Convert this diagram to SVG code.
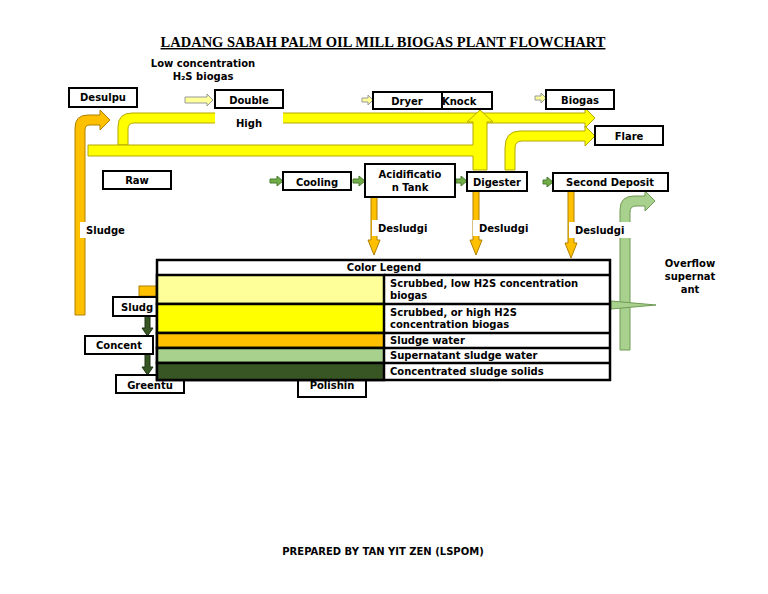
<svg xmlns="http://www.w3.org/2000/svg" width="768" height="594" viewBox="0 0 768 594">
<style>
.b{fill:#fff;stroke:#000;stroke-width:2}
.t{font-family:"DejaVu Sans",sans-serif;font-weight:bold;font-size:10px;fill:#000}
.c{text-anchor:middle}
.y{fill:#ffff00;stroke:#b5a800;stroke-width:1}
.o{fill:#ffc000;stroke:#b08000;stroke-width:1}
.g{fill:#a9d18e;stroke:#6f9a55;stroke-width:1}
.ly{fill:#ffff99;stroke:#999;stroke-width:1}
.sg{fill:#70ad47;stroke:#4a7a2f;stroke-width:1}
.dg{fill:#375623;stroke:#1e3312;stroke-width:1}
</style>
<rect width="768" height="594" fill="#fff"/>
<text x="383" y="47" text-anchor="middle" font-family="Liberation Serif,serif" font-weight="bold" font-size="14.5" text-decoration="underline">LADANG SABAH PALM OIL MILL BIOGAS PLANT FLOWCHART</text>
<g id="connectors">
<path class="o" d="M75,315 V128 Q75,115 88,115 H100 V110 L110,120 L100,130 V125 H90 Q85,125 85,130 V315 Z"/>
<path class="y" d="M118,145 V127 Q118,113 132,113 H585 V108 L595,118 L585,128 V123 H134 Q128,123 128,129 V145 Z"/>
<rect x="215" y="112" width="68" height="12" fill="#fff"/>
<path class="y" d="M88,145 H473 V122 H467 L480,110 L493,122 H487 V170 H473 V156 H88 Z"/>
<path class="y" d="M505,170 V148 Q505,131 520,131 H585 V126 L595,136 L585,146 V141 H522 Q515,141 515,148 V170 Z"/>
<path class="g" d="M620,350 V210 Q620,196 634,196 H645 V191 L655,201 L645,211 V206 H636 Q630,206 630,212 V350 Z"/>
<path class="g" d="M611,301 L656,305 L611,309 Z"/>
<path class="ly" d="M185,97 H207 V94 L213,100 L207,106 V103 H185 Z"/>
<path class="ly" d="M362,98 H368 V95 L373,100 L368,105 V102 H362 Z"/>
<path class="ly" d="M535,96 H541 V93 L546,98 L541,103 V100 H535 Z"/>
<path class="sg" d="M270,179 H277 V176 L283,181 L277,186 V183 H270 Z"/>
<path class="sg" d="M353,179 H359 V176 L365,181 L359,186 V183 H353 Z"/>
<path class="sg" d="M456,179 H461 V176 L467,181 L461,186 V183 H456 Z"/>
<path class="sg" d="M543,180 H547 V177 L553,182 L547,187 V184 H543 Z"/>
<path class="o" d="M371,197 H377 V240 H380 L374,255 L368,240 H371 Z"/>
<path class="o" d="M473,191 H479 V240 H482 L476,255 L470,240 H473 Z"/>
<path class="o" d="M568,191 H574 V243 H577 L571,258 L565,243 H568 Z"/>
<rect x="139" y="286" width="19" height="10" class="o"/>
<path class="dg" d="M145,316 H150 V328 H153 L147.5,336 L142,328 H145 Z"/>
<path class="dg" d="M145,354 H150 V367 H153 L147.5,375 L142,367 H145 Z"/>
</g>
<rect x="80" y="222" width="52" height="16" fill="#fff"/>
<text class="t" x="86" y="234">Sludge</text>
<rect x="372" y="220" width="65" height="16" fill="#fff"/>
<text class="t" x="378" y="232">Desludgi</text>
<rect x="473" y="220" width="65" height="16" fill="#fff"/>
<text class="t" x="479" y="232">Desludgi</text>
<rect x="569" y="222" width="65" height="16" fill="#fff"/>
<text class="t" x="575" y="234">Desludgi</text>
<text class="t c" x="203" y="67">Low concentration</text>
<text class="t c" x="203" y="80">H₂S biogas</text>
<text class="t c" x="249" y="127">High</text>
<g id="desulpu"><rect class="b" x="69" y="88" width="68" height="19"/><text class="t c" x="103" y="101">Desulpu</text></g>
<g id="double"><rect class="b" x="215" y="90" width="68" height="18"/><text class="t c" x="249" y="104">Double</text></g>
<g id="dryer"><rect class="b" x="373" y="92" width="69" height="17"/><text class="t c" x="407" y="105">Dryer</text></g>
<g id="knock"><rect class="b" x="442" y="92" width="50" height="17"/><text class="t" x="442" y="105">Knock</text></g>
<g id="biogas"><rect class="b" x="546" y="90" width="68" height="19"/><text class="t c" x="580" y="104">Biogas</text></g>
<g id="flare"><rect class="b" x="595" y="126" width="68" height="19"/><text class="t c" x="629" y="140">Flare</text></g>
<g id="raw"><rect class="b" x="103" y="171" width="68" height="18"/><text class="t c" x="137" y="184">Raw</text></g>
<g id="cooling"><rect class="b" x="283" y="172" width="68" height="18"/><text class="t c" x="317" y="186">Cooling</text></g>
<g id="acid"><rect class="b" x="365" y="164" width="90" height="33"/><text class="t c" x="410" y="178">Acidificatio</text><text class="t c" x="410" y="191">n Tank</text></g>
<g id="digester"><rect class="b" x="467" y="172" width="60" height="19"/><text class="t c" x="497" y="186">Digester</text></g>
<g id="second"><rect class="b" x="553" y="173" width="115" height="18"/><text class="t c" x="610" y="186">Second Deposit</text></g>
<g id="overflow"><text class="t c" x="690" y="267">Overflow</text><text class="t c" x="690" y="280">supernat</text><text class="t c" x="690" y="293">ant</text></g>
<g id="sludge"><rect class="b" x="113" y="297" width="47" height="19"/><text class="t" x="121" y="311">Sludg</text></g>
<g id="concent"><rect class="b" x="85" y="336" width="68" height="18"/><text class="t c" x="119" y="349">Concent</text></g>
<g id="greentu"><rect class="b" x="116" y="375" width="68" height="18"/><text class="t c" x="150" y="389">Greentu</text></g>
<g id="polishin"><rect class="b" x="298" y="375" width="68" height="22"/><text class="t c" x="332" y="389">Polishin</text></g>
<g id="legend" stroke="#000" stroke-width="2.5">
<rect x="157" y="260" width="453" height="120" fill="#fff"/>
<rect x="157" y="275" width="227" height="29" fill="#ffff99"/>
<rect x="157" y="304" width="227" height="29" fill="#ffff00"/>
<rect x="157" y="333" width="227" height="15" fill="#ffc000"/>
<rect x="157" y="348" width="227" height="15" fill="#a9d18e"/>
<rect x="157" y="363" width="227" height="17" fill="#375623"/>
<path d="M384,275 H610 M384,304 H610 M384,333 H610 M384,348 H610 M384,363 H610" fill="none"/>
<g stroke="none"><text class="t c" x="384" y="271">Color Legend</text>
<text class="t" x="390" y="287">Scrubbed, low H2S concentration</text><text class="t" x="390" y="299">biogas</text>
<text class="t" x="390" y="316">Scrubbed, or high H2S</text><text class="t" x="390" y="328">concentration biogas</text>
<text class="t" x="390" y="344">Sludge water</text>
<text class="t" x="390" y="359">Supernatant sludge water</text>
<text class="t" x="390" y="375">Concentrated sludge solids</text></g>
</g>
<text class="t c" x="383" y="555">PREPARED BY TAN YIT ZEN (LSPOM)</text>
</svg>
